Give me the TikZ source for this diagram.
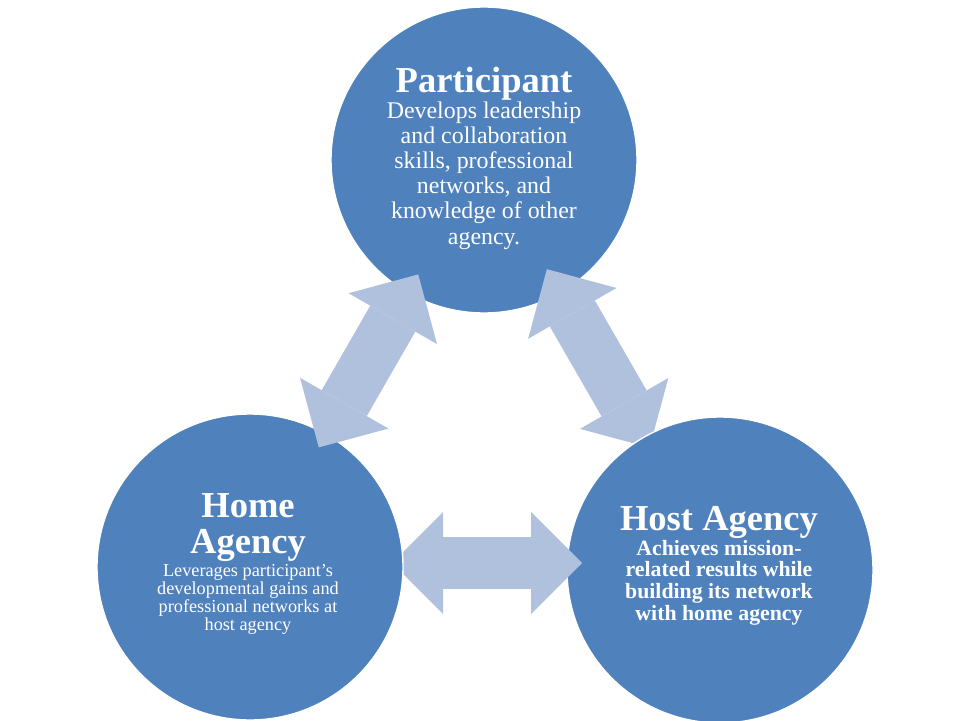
\documentclass[tikz,border=0pt]{standalone}
\usepackage{fontspec}
\setmainfont{Liberation Serif}
\usetikzlibrary{arrows.meta}
\definecolor{circblue}{HTML}{4F81BD}
\definecolor{arrowblue}{HTML}{B0C1DD}

\begin{document}
\begin{tikzpicture}[
  agent/.style={circle, fill=circblue, draw=white, line width=1pt, minimum size=7.65cm, inner sep=0pt},
  link/.style={draw=arrowblue, line width=1.3cm,
    {Triangle[length=1.275cm,width=2.55cm,line width=0pt]}-{Triangle[length=1.275cm,width=2.55cm,line width=0pt]}},
  title/.style={text=white, inner sep=0pt, anchor=base, align=center, font=\fontsize{26}{25.6}\selectfont\bfseries},
  body/.style={text=white, inner sep=0pt, anchor=base, align=center}
]
\useasboundingbox (0,0) rectangle (24,18);
% centres of the three circles
\coordinate (partc) at (12.1,14.0);
\coordinate (homec) at (6.25,3.825);
\coordinate (hostc) at (18.0,3.75);

% circles and exchange arrows
\node[agent] (part) at (partc) {};
\draw[link, shorten <=3.15cm, shorten >=3.53cm] (partc) -- (hostc);
\node[agent] (host) at (hostc) {};
\draw[link] ([shift={(3.55,0.1)}]homec) -- ([shift={(-3.45,0.175)}]hostc);
\node[agent] (home) at (homec) {};
\draw[link, shorten <=3.3cm, shorten >=3.45cm] (partc) -- (homec);

% Labels (anchored at the baseline of their last line)
\node[title] (parttitle) at (12.1,15.675) {Participant};
\node[body, font=\fontsize{17}{17.8}\selectfont] (parttext) at (12.1,11.9)
  {Develops leadership\\and collaboration\\skills, professional\\networks, and\\knowledge of other\\agency.};

\node[title] (hometitle) at (6.2,4.175) {Home\\Agency};
\node[body, font=\fontsize{13}{12.8}\selectfont] (hometext) at (6.2,2.25)
  {Leverages participant’s\\developmental gains and\\professional networks at\\host agency};

\node[title] (hosttitle) at (17.975,4.75) {Host Agency};
\node[body, font=\fontsize{15.5}{15.4}\selectfont\bfseries] (hosttext) at (17.975,2.5)
  {Achieves mission-\\related results while\\building its network\\with home agency};
\end{tikzpicture}
\end{document}
